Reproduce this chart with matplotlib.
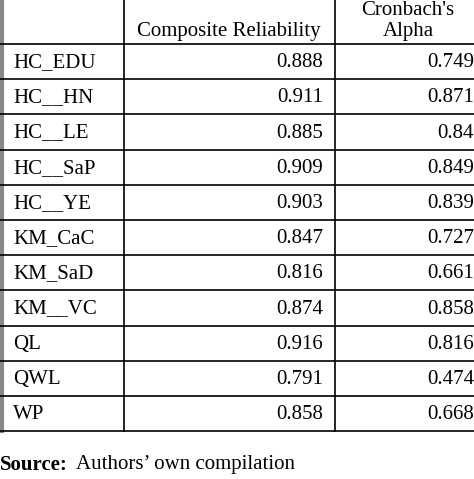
import matplotlib.pyplot as plt

constructs = ["HC_EDU", "HC__HN", "HC__LE", "HC__SaP", "HC__YE", "KM_CaC",
              "KM_SaD", "KM__VC", "QL", "QWL", "WP"]
composite = ["0.888", "0.911", "0.885", "0.909", "0.903", "0.847",
             "0.816", "0.874", "0.916", "0.791", "0.858"]
alpha = ["0.749", "0.871", "0.84", "0.849", "0.839", "0.727",
         "0.661", "0.858", "0.816", "0.474", "0.668"]

plt.rcParams['font.family'] = ['Liberation Serif', 'DejaVu Serif']
fig = plt.figure(figsize=(4.74, 4.79), dpi=100)
ax = fig.add_axes([0, 0, 1, 1])
ax.set_xlim(0, 474)
ax.set_ylim(479, 0)
ax.axis('off')

fs = 15
top, head, rowh = 0, 44, 35.2
bottom = head + rowh * len(constructs)
# grid lines
ax.plot([2, 2], [top, bottom], color='#888888', lw=3)
for x in [124, 335]:
    ax.plot([x, x], [top, bottom], color='black', lw=1.2)
for i in range(len(constructs) + 1):
    y = head + i * rowh
    ax.plot([0, 474], [y, y], color='black', lw=1.2)

ax.text(229, 31, "Composite Reliability", ha='center', va='center', fontsize=fs)
ax.text(408, 10, "Cronbach's", ha='center', va='center', fontsize=fs)
ax.text(408, 31, "Alpha", ha='center', va='center', fontsize=fs)

for i, name in enumerate(constructs):
    yc = head + (i + 0.5) * rowh + 1
    ax.text(13, yc, name, ha='left', va='center', fontsize=fs)
    ax.text(323, yc, composite[i], ha='right', va='center', fontsize=fs)
    ax.text(474, yc, alpha[i], ha='right', va='center', fontsize=fs)

ax.text(0, 465, "Source:", ha='left', va='center', fontsize=fs, fontweight='bold')
ax.text(76, 465, "Authors\u2019 own compilation", ha='left', va='center', fontsize=fs)

fig.savefig("out.png", dpi=100)
